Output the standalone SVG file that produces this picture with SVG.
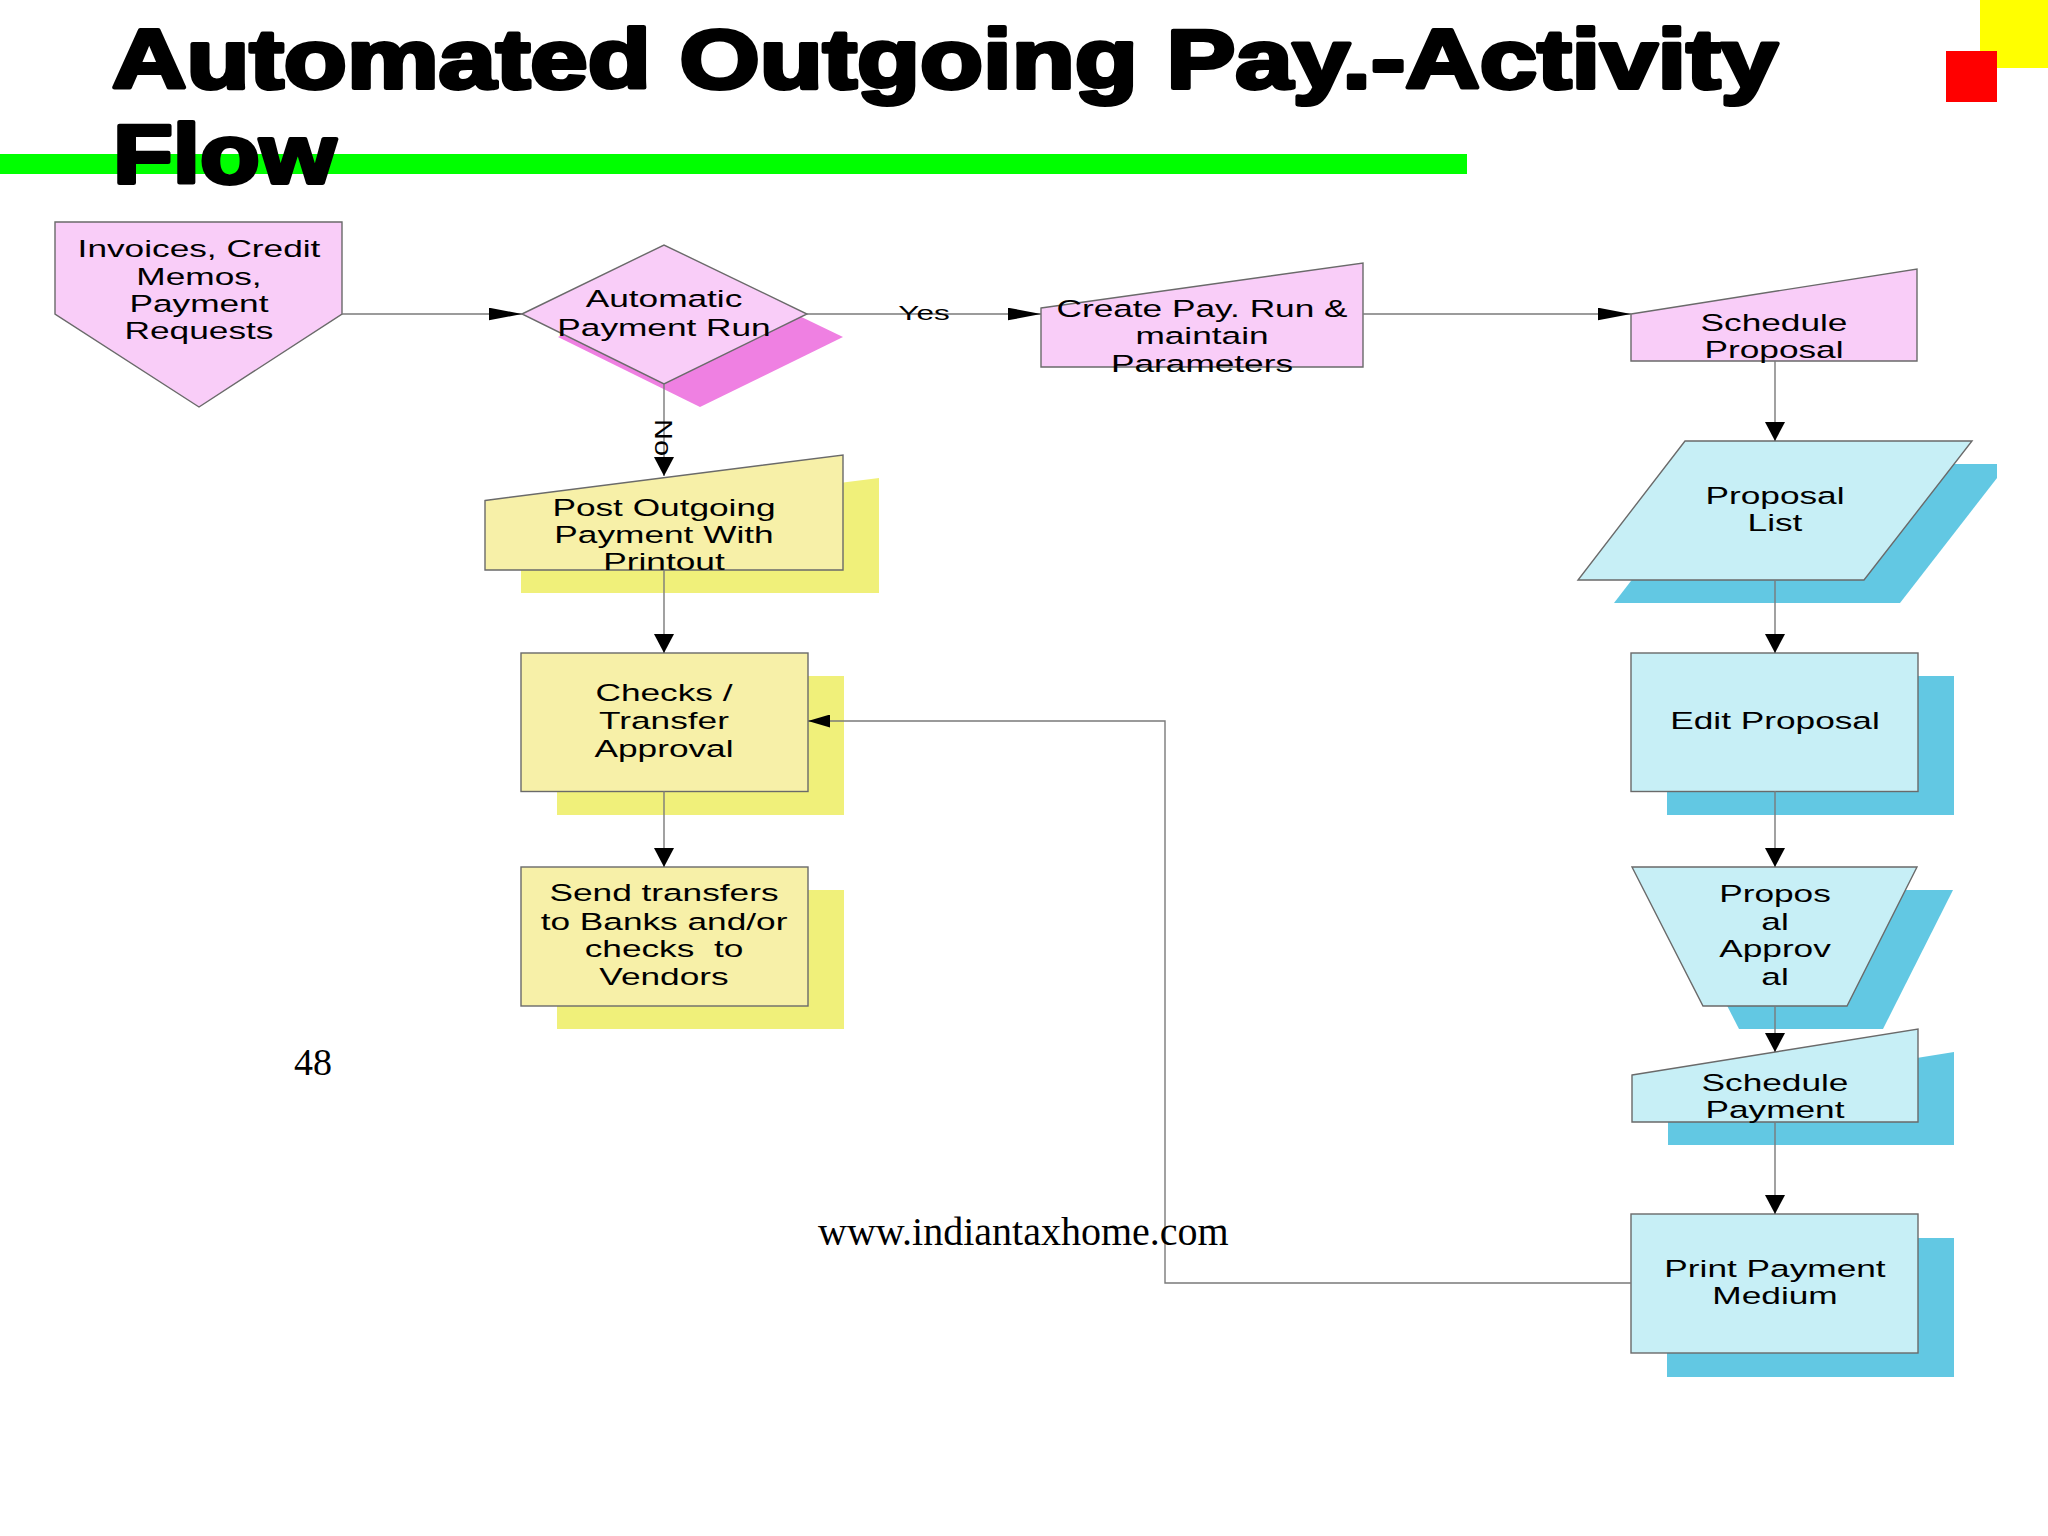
<svg xmlns="http://www.w3.org/2000/svg" width="2048" height="1536" viewBox="0 0 2048 1536">
<defs>
<style>
.n{stroke:#6a6a6a;stroke-width:1.4}
.pk{fill:#F9CDF8}
.yl{fill:#F7F0A8}
.bl{fill:#C7EFF6}
.ysh{fill:#F0F07A}
.bsh{fill:#62C8E3}
.psh{fill:#EF80E2}
.t{font-family:"Liberation Sans",Arial,sans-serif;font-size:23.5px;fill:#000;text-anchor:middle}
.c{fill:none;stroke:#7a7a7a;stroke-width:1.4}
.title{font-family:"Liberation Sans",Arial,sans-serif;font-weight:bold;font-size:84px;fill:#000;stroke:#000;stroke-width:4;stroke-linejoin:round}
.ser{font-family:"Liberation Serif","Times New Roman",serif;fill:#000}
</style>
<marker id="mH" markerUnits="userSpaceOnUse" markerWidth="33" markerHeight="13" refX="33" refY="6.3" orient="auto"><path d="M0,0 L33,6.3 L0,12.6 z" fill="#000"/></marker>
<marker id="mS" markerUnits="userSpaceOnUse" markerWidth="22" markerHeight="13" refX="22" refY="6.5" orient="auto"><path d="M0,0 L22,6.5 L0,13 z" fill="#000"/></marker>
<marker id="mV" markerUnits="userSpaceOnUse" markerWidth="19" markerHeight="20" refX="19" refY="10" orient="auto"><path d="M0,0 L19,10 L0,20 z" fill="#000"/></marker>
</defs>
<rect x="0" y="0" width="2048" height="1536" fill="#fff"/>

<g id="decor">
<rect x="1980" y="0" width="68" height="68" fill="#FFFF00"/>
<rect x="1946" y="51" width="51" height="51" fill="#FF0000"/>
<rect x="0" y="154" width="1467" height="20" fill="#00FF00"/>
</g>
<g id="title">
<text class="title" x="112" y="88" textLength="1666" lengthAdjust="spacingAndGlyphs">Automated Outgoing Pay.-Activity</text>
<text class="title" x="113" y="183" textLength="223" lengthAdjust="spacingAndGlyphs">Flow</text>
</g>

<g id="invoices">
<polygon class="n pk" points="55,222 342,222 342,314 199,407 55,314"/>
<g transform="translate(199,0) scale(1.5,1)">
<text class="t" x="0" y="257">Invoices, Credit</text>
<text class="t" x="0" y="285">Memos,</text>
<text class="t" x="0" y="312">Payment</text>
<text class="t" x="0" y="339">Requests</text>
</g>
</g>

<g id="automatic-payment-run">
<polygon class="psh" points="558,337 700,268 843,337 700,407"/>
<polygon class="n pk" points="522,314 664,245 807,314 664,384"/>
<g transform="translate(664,0) scale(1.5,1)">
<text class="t" x="0" y="307">Automatic</text>
<text class="t" x="0" y="336">Payment Run</text>
</g>
</g>

<g id="create-pay-run">
<polygon class="n pk" points="1041,308 1363,263 1363,367 1041,367"/>
<g transform="translate(1202,0) scale(1.5,1)">
<text class="t" x="0" y="317">Create Pay. Run &amp;</text>
<text class="t" x="0" y="344">maintain</text>
<text class="t" x="0" y="372">Parameters</text>
</g>
</g>

<g id="schedule-proposal">
<polygon class="n pk" points="1631,314 1917,269 1917,361 1631,361"/>
<g transform="translate(1774,0) scale(1.5,1)">
<text class="t" x="0" y="331">Schedule</text>
<text class="t" x="0" y="358">Proposal</text>
</g>
</g>

<g id="post-outgoing-payment">
<polygon class="ysh" points="521,523.5 879,478 879,593 521,593"/>
<polygon class="n yl" points="485,500.5 843,455 843,570 485,570"/>
<g transform="translate(664,0) scale(1.5,1)">
<text class="t" x="0" y="516">Post Outgoing</text>
<text class="t" x="0" y="543">Payment With</text>
<text class="t" x="0" y="570">Printout</text>
</g>
</g>

<g id="checks-transfer-approval">
<rect class="ysh" x="557" y="676" width="287" height="139"/>
<rect class="n yl" x="521" y="653" width="287" height="138.5"/>
<g transform="translate(664,0) scale(1.5,1)">
<text class="t" x="0" y="701">Checks /</text>
<text class="t" x="0" y="729">Transfer</text>
<text class="t" x="0" y="757">Approval</text>
</g>
</g>

<g id="send-transfers">
<rect class="ysh" x="557" y="890" width="287" height="139"/>
<rect class="n yl" x="521" y="867" width="287" height="139"/>
<g transform="translate(664,0) scale(1.5,1)">
<text class="t" x="0" y="901">Send transfers</text>
<text class="t" x="0" y="930">to Banks and/or</text>
<text class="t" x="0" y="957" style="white-space:pre">checks  to</text>
<text class="t" x="0" y="985">Vendors</text>
</g>
</g>

<g id="proposal-list">
<polygon class="bsh" points="1721,464 1997,464 1997,478 1900,603 1614,603"/>
<polygon class="n bl" points="1685,441 1972,441 1864,580 1578,580"/>
<g transform="translate(1775,0) scale(1.5,1)">
<text class="t" x="0" y="504">Proposal</text>
<text class="t" x="0" y="531">List</text>
</g>
</g>

<g id="edit-proposal">
<rect class="bsh" x="1667" y="676" width="287" height="139"/>
<rect class="n bl" x="1631" y="653" width="287" height="138.5"/>
<g transform="translate(1775,0) scale(1.5,1)">
<text class="t" x="0" y="729">Edit Proposal</text>
</g>
</g>

<g id="proposal-approval">
<polygon class="bsh" points="1668,890 1953,890 1883,1029 1739,1029"/>
<polygon class="n bl" points="1632,867 1917,867 1847,1006 1703,1006"/>
<g transform="translate(1775,0) scale(1.5,1)">
<text class="t" x="0" y="902">Propos</text>
<text class="t" x="0" y="930">al</text>
<text class="t" x="0" y="957">Approv</text>
<text class="t" x="0" y="985">al</text>
</g>
</g>

<g id="schedule-payment">
<polygon class="bsh" points="1668,1098 1954,1052 1954,1145 1668,1145"/>
<polygon class="n bl" points="1632,1075 1918,1029 1918,1122 1632,1122"/>
<g transform="translate(1775,0) scale(1.5,1)">
<text class="t" x="0" y="1091">Schedule</text>
<text class="t" x="0" y="1118">Payment</text>
</g>
</g>

<g id="print-payment-medium">
<rect class="bsh" x="1667" y="1238" width="287" height="139"/>
<rect class="n bl" x="1631" y="1214" width="287" height="139"/>
<g transform="translate(1775,0) scale(1.5,1)">
<text class="t" x="0" y="1277">Print Payment</text>
<text class="t" x="0" y="1304">Medium</text>
</g>
</g>

<g id="connectors">
<line class="c" x1="342" y1="314" x2="522" y2="314" marker-end="url(#mH)"/>
<line class="c" x1="807" y1="314" x2="1041" y2="314" marker-end="url(#mH)"/>
<line class="c" x1="1363" y1="314" x2="1631" y2="314" marker-end="url(#mH)"/>
<line class="c" x1="664" y1="384" x2="664" y2="476" marker-end="url(#mV)"/>
<line class="c" x1="664" y1="570" x2="664" y2="653" marker-end="url(#mV)"/>
<line class="c" x1="664" y1="791" x2="664" y2="867" marker-end="url(#mV)"/>
<line class="c" x1="1775" y1="361" x2="1775" y2="441" marker-end="url(#mV)"/>
<line class="c" x1="1775" y1="580" x2="1775" y2="653" marker-end="url(#mV)"/>
<line class="c" x1="1775" y1="791" x2="1775" y2="867" marker-end="url(#mV)"/>
<line class="c" x1="1775" y1="1006" x2="1775" y2="1052" marker-end="url(#mV)"/>
<line class="c" x1="1775" y1="1122" x2="1775" y2="1214" marker-end="url(#mV)"/>
<polyline class="c" points="1631,1283 1165,1283 1165,721 808,721" marker-end="url(#mS)"/>
<g transform="translate(924,0) scale(1.5,1)">
<text class="t" x="0" y="320" style="font-size:21px">Yes</text>
</g>
<text class="t" transform="translate(655,419) rotate(90)" x="0" y="0" style="text-anchor:start;font-size:23px" textLength="37" lengthAdjust="spacingAndGlyphs">No</text>
</g>

<g id="footer">
<text class="ser" x="294" y="1075" style="font-size:38px">48</text>
<text class="ser" x="818" y="1245" style="font-size:40px">www.indiantaxhome.com</text>
</g>
</svg>
